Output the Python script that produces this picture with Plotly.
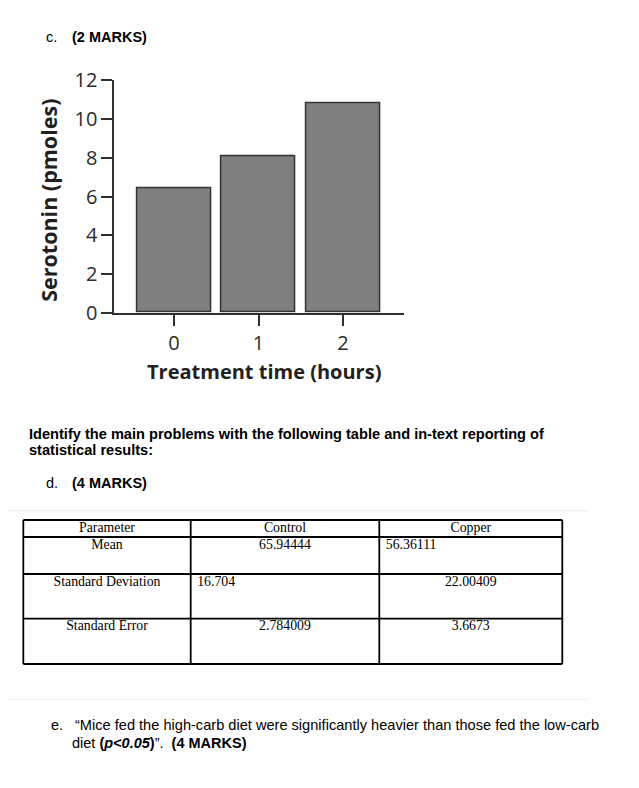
import plotly.graph_objects as go

# ---- data ----
hours = ["0", "1", "2"]
serotonin = [6.42, 8.06, 10.83]
y_ticks = [0, 2, 4, 6, 8, 10, 12]

table_header = ["Parameter", "Control", "Copper"]
table_params = ["Mean", "Standard Deviation", "Standard Error"]
table_control = ["65.94444", "16.704", "2.784009"]
table_copper = ["56.36111", "22.00409", "3.6673"]
# alignment of each body cell (row-major), as typed in the source document
table_align = [["center", "center", "left"],
               ["center", "left", "center"],
               ["center", "center", "center"]]

# ---- layout constants ----
W, H = 639, 788
PAGE_MARGIN = 8  # the browser page's default body margin
def px(x):
    return (x - PAGE_MARGIN) / W
def py(y):
    return 1 - (y - PAGE_MARGIN) / H

col_widths = [167.4, 188.6, 183.0]
row_heights = [17.0, 37.0, 44.7, 45.3]
TBL_X0, TBL_Y0 = 23.3, 520.0
PAD = 3.0

AX = "#2f2f2f"
fig = go.Figure()
fig.add_trace(go.Bar(
    x=hours, y=serotonin, width=0.88,
    marker=dict(color="#7f7f7f", line=dict(color="#333333", width=1.5)),
    showlegend=False, hoverinfo="skip",
))

# ---- table drawn on its own hidden axes (units = pixels) ----
tw, th = sum(col_widths), sum(row_heights)
col_edges = [0.0]
for w in col_widths:
    col_edges.append(col_edges[-1] + w)
row_edges = [0.0]
for h in row_heights:
    row_edges.append(row_edges[-1] + h)

lx, ly = [], []
for yv in row_edges:
    lx += [0, tw, None]; ly += [yv, yv, None]
for xv in col_edges:
    lx += [xv, xv, None]; ly += [0, th, None]
fig.add_trace(go.Scatter(x=lx, y=ly, mode="lines", xaxis="x2", yaxis="y2",
                         line=dict(color="black", width=1.8), showlegend=False, hoverinfo="skip"))

tx, tyv, tt, tp = [], [], [], []
for c, txt in enumerate(table_header):
    tx.append((col_edges[c] + col_edges[c + 1]) / 2); tyv.append(row_edges[0] + 8.7)
    tt.append(txt); tp.append("middle center")
body_cols = [table_params, table_control, table_copper]
for r in range(3):
    for c in range(3):
        a = table_align[r][c]
        if a == "left":
            tx.append(col_edges[c] + 6.5); tp.append("middle right")
        else:
            tx.append((col_edges[c] + col_edges[c + 1]) / 2); tp.append("middle center")
        tyv.append(row_edges[r + 1] + 8.2)
        tt.append(body_cols[c][r])
fig.add_trace(go.Scatter(x=tx, y=tyv, text=tt, mode="text", textposition=tp,
                         xaxis="x2", yaxis="y2", cliponaxis=False,
                         textfont=dict(family="Liberation Serif", size=13.8, color="#000000"),
                         showlegend=False, hoverinfo="skip"))

ann = []
def add(text, x, y, size=14.5, family="Liberation Sans", xanchor="left", color="#000", angle=0):
    ann.append(dict(text=text, x=px(x), y=py(y), xref="paper", yref="paper",
                    xanchor=xanchor, yanchor="middle", showarrow=False, textangle=angle,
                    font=dict(family=family, size=size, color=color)))

add("c.", 44, 37)
add("<b>(2 MARKS)</b>", 70, 37)
add("<b>Identify the main problems with the following table and in-text reporting of</b>", 26.7, 433.5, size=14.6)
add("<b>statistical results:</b>", 26.7, 450, size=14.6)
add("d.", 44, 483)
add("<b>(4 MARKS)</b>", 70, 483)
add("e.", 49, 725)
add("\u201cMice fed the high-carb diet were significantly heavier than those fed the low-carb", 72.7, 725, size=14.6)
add("diet <b>(<i>p&lt;0.05</i>)</b>\u201d.  <b>(4 MARKS)</b>", 70, 742.5)

# axis titles
add("<b>Serotonin (pmoles)</b>", 48.3, 200.5, size=21.5, family="Open Sans", xanchor="center", color="#231f20", angle=-90)
add("<b>Treatment time (hours)</b>", 264, 372, size=20, family="Open Sans", xanchor="center", color="#231f20")

shapes = [
    dict(type="line", xref="paper", yref="paper", x0=px(7), x1=px(588), y0=py(510.7), y1=py(510.7),
         line=dict(color="#e6e9f4", width=1)),
    dict(type="line", xref="paper", yref="paper", x0=px(7), x1=px(588), y0=py(699.3), y1=py(699.3),
         line=dict(color="#eceef5", width=1)),
]

fig.update_layout(
    width=W, height=H, autosize=False,
    margin=dict(l=0, r=0, t=0, b=0, pad=0, autoexpand=False),
    paper_bgcolor="white", plot_bgcolor="white",
    annotations=ann, shapes=shapes, bargap=0, showlegend=False,
    xaxis=dict(domain=[px(114.3), px(404.3)], range=[-0.7065, 2.725], type="category",
               showline=True, linecolor=AX, linewidth=1.8, ticks="outside", ticklen=11,
               tickwidth=1.8, tickcolor=AX, showgrid=False, zeroline=False, fixedrange=True,
               tickfont=dict(family="Open Sans", size=20, color="#2b2b2b")),
    yaxis=dict(domain=[py(312.7), py(80.3)], range=[0, 12], tickvals=y_ticks,
               showline=True, linecolor=AX, linewidth=1.8, ticks="outside", ticklen=11,
               tickwidth=1.8, tickcolor=AX, showgrid=False, zeroline=False, fixedrange=True,
               tickfont=dict(family="Open Sans", size=20, color="#2b2b2b")),
    xaxis2=dict(domain=[px(TBL_X0 - PAD), px(TBL_X0 + tw + PAD)], range=[-PAD, tw + PAD],
                anchor="y2", visible=False, fixedrange=True),
    yaxis2=dict(domain=[py(TBL_Y0 + th + PAD), py(TBL_Y0 - PAD)], range=[th + PAD, -PAD],
                anchor="x2", visible=False, fixedrange=True),
)

fig.write_html("out.html")
